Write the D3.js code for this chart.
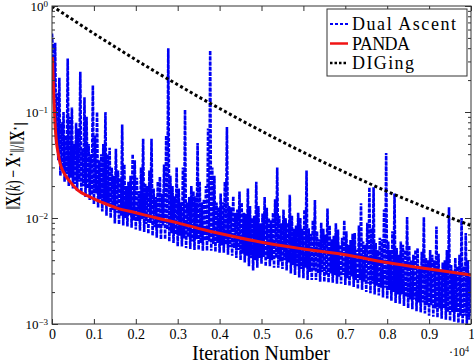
<!DOCTYPE html>
<html><head><meta charset="utf-8">
<script src="https://cdn.jsdelivr.net/npm/d3@7"></script>
<style>body{margin:0;background:#fff} svg{display:block} svg text{font-family:"Liberation Serif","Times New Roman","DejaVu Serif",serif;}</style>
</head><body><svg id="c" width="474" height="364"></svg>
<script>
// ---- data ----
const xTicks = [0,1000,2000,3000,4000,5000,6000,7000,8000,9000,10000];
const xTickLabels = ["0","0.1","0.2","0.3","0.4","0.5","0.6","0.7","0.8","0.9","1"];
const yTicks = [1e-3,1e-2,1e-1,1];
const yTickExps = ["\u22123","\u22122","\u22121","0"];
const seriesNames = ["Dual Ascent","PANDA","DIGing"];

// Dual Ascent: troughs at iterations 0,50,...,10000 and peaks at 25,75,...,9975
const daStep = 50;
const daLow = [
0.55,0.12,0.050,0.035,0.025,0.030,0.022,0.026,0.020,0.024,
0.019,0.021,0.018,0.022,0.0174,0.020,0.0158,0.019,0.0148,0.0165,
0.0135,0.017,0.0126,0.0150,0.0115,0.014,0.0105,0.0135,0.0100,0.0118,
0.0089,0.0112,0.0087,0.0105,0.0085,0.0100,0.0083,0.0106,0.0081,0.0095,
0.0078,0.0094,0.0076,0.0098,0.0074,0.0088,0.0071,0.0090,0.0068,0.0082,
0.0065,0.0080,0.0063,0.0085,0.0063,0.0078,0.0060,0.0072,0.0058,0.0070,
0.0054,0.0068,0.0054,0.0064,0.0052,0.0066,0.0051,0.0060,0.0050,0.0063,
0.0050,0.0058,0.0049,0.0061,0.0049,0.0060,0.0049,0.0057,0.0048,0.0058,
0.0047,0.0055,0.0047,0.0056,0.0045,0.0053,0.0044,0.0052,0.0042,0.0050,
0.0040,0.0046,0.0038,0.0044,0.0035,0.0042,0.0032,0.0040,0.0034,0.0042,
0.0037,0.0043,0.0035,0.0041,0.0035,0.0040,0.0034,0.0042,0.0034,0.0039,
0.0033,0.0040,0.0032,0.0038,0.0030,0.0036,0.0029,0.0035,0.00275,0.0033,
0.0027,0.0034,0.0026,0.0031,0.0026,0.0032,0.0026,0.0030,0.0025,0.0031,
0.0025,0.0029,0.00245,0.0030,0.00245,0.0029,0.0024,0.0028,0.0024,0.0029,
0.00234,0.0027,0.0023,0.0028,0.00224,0.0026,0.00214,0.0026,0.0021,0.0025,
0.0020,0.0024,0.00195,0.0024,0.0019,0.0023,0.00186,0.0022,0.00178,0.0022,
0.00174,0.0021,0.00166,0.0020,0.00158,0.0019,0.00155,0.0019,0.00148,0.0018,
0.00141,0.0017,0.00138,0.0017,0.00132,0.0016,0.00129,0.0016,0.00126,0.0015,
0.0012,0.0015,0.00117,0.0014,0.00115,0.0014,0.00112,0.0014,0.0011,0.0013,
0.00107,0.0013,0.00105,0.0013,0.00102,0.0012,0.0010,0.0012,0.0010,0.0011,
0.0012
];
const daHigh = [
0.35,0.45,0.15,0.21,0.08,0.10,0.06,0.32,0.09,0.11,
0.05,0.079,0.07,0.24,0.045,0.138,0.09,0.050,0.04,0.178,
0.06,0.10,0.035,0.040,0.05,0.10,0.04,0.046,0.030,0.025,
0.045,0.028,0.024,0.076,0.032,0.020,0.022,0.025,0.040,0.035,
0.024,0.018,0.030,0.056,0.021,0.020,0.028,0.056,0.019,0.0158,
0.022,0.0245,0.017,0.032,0.06,0.40,0.025,0.020,0.016,0.030,
0.019,0.0141,0.030,0.105,0.014,0.0158,0.020,0.0178,0.016,0.051,
0.022,0.0141,0.015,0.020,0.07,0.38,0.030,0.025,0.014,0.0126,
0.017,0.0141,0.022,0.072,0.013,0.0126,0.016,0.0112,0.012,0.0178,
0.014,0.0112,0.011,0.019,0.013,0.0100,0.0105,0.022,0.013,0.0089,
0.011,0.0158,0.0125,0.0100,0.0095,0.0112,0.015,0.030,0.0105,0.0089,
0.012,0.0100,0.0090,0.0166,0.0105,0.0079,0.0085,0.0112,0.0100,0.0079,
0.012,0.028,0.0080,0.0071,0.0095,0.0148,0.0075,0.0063,0.0090,0.0079,
0.0070,0.0123,0.0085,0.0063,0.0068,0.0089,0.0078,0.0056,0.0065,0.0095,
0.0075,0.0056,0.0062,0.0071,0.0072,0.0050,0.0085,0.0138,0.0060,0.0056,
0.0090,0.0195,0.0080,0.0195,0.0058,0.0050,0.0065,0.0063,0.0120,0.041,
0.0060,0.0050,0.0075,0.017,0.0052,0.0045,0.0060,0.0056,0.0050,0.0102,
0.0055,0.0040,0.0045,0.0050,0.0052,0.0035,0.0048,0.0102,0.0042,0.0040,
0.0050,0.0045,0.0040,0.0083,0.0046,0.0032,0.0038,0.0040,0.0050,0.0126,
0.0036,0.0032,0.0042,0.0035,0.0045,0.0100,0.0035,0.0072,0.0040,0.0028
];

const pandaIter = [10,40,70,100,150,200,300,430,600,900,1200,1550,2000,2500,3000,3650,4250,5000,6000,7000,8000,9000,10000];
const pandaVal  = [0.33,0.15,0.08,0.055,0.040,0.032,0.026,0.022,0.0185,0.0158,0.0140,0.0124,0.0112,0.0100,0.0090,0.0077,0.0068,0.0059,0.0051,0.0045,0.0038,0.0033,0.0029];

const digingStep = 500;
const diging = [1.0,0.740,0.550,0.413,0.311,0.236,0.181,0.139,0.108,0.0841,0.0661,0.0522,0.0416,0.0333,0.0269,0.0218,0.0178,0.0147,0.0122,0.0101,0.0085];

// ---- chart ----
const W = 474, H = 364;
const m = {left:52, right:3, top:6, bottom:40};
const svg = d3.select("#c");
const x = d3.scaleLinear().domain([0,10000]).range([m.left, W-m.right]);
const y = d3.scaleLog().domain([1e-3,1]).range([H-m.bottom, m.top]);

svg.append("defs").append("clipPath").attr("id","clip")
  .append("rect").attr("x",m.left).attr("y",m.top)
  .attr("width",W-m.left-m.right).attr("height",H-m.top-m.bottom);

const plot = svg.append("g").attr("clip-path","url(#clip)");

// interleave troughs and peaks in iteration order
const daData = [];
daLow.forEach((v,j)=>{
  daData.push([j*daStep, v]);
  if (j < daHigh.length) daData.push([j*daStep + daStep/2, daHigh[j]]);
});
plot.append("path").datum(daData)
  .attr("fill","none").attr("stroke","#0000f5").attr("stroke-width",2.6)
  .attr("stroke-dasharray","4,1.2")
  .attr("d", d3.line().x(d=>x(d[0])).y(d=>y(d[1])));

const pData = pandaIter.map((k,i)=>[k,pandaVal[i]]);
plot.append("path").datum(pData)
  .attr("fill","none").attr("stroke","#f01414").attr("stroke-width",3)
  .attr("d", d3.line().curve(d3.curveMonotoneX).x(d=>x(d[0])).y(d=>y(d[1])));

const dData = diging.map((v,i)=>[i*digingStep, v]);
plot.append("path").datum(dData)
  .attr("fill","none").attr("stroke","#000").attr("stroke-width",3)
  .attr("stroke-dasharray","3,2.6")
  .attr("d", d3.line().curve(d3.curveMonotoneX).x(d=>x(d[0])).y(d=>y(d[1])));

// axes
const axStyle = g => { g.select(".domain").remove(); g.attr("font-family",null); g.selectAll("line").attr("stroke","#333"); };
svg.append("g").attr("transform",`translate(0,${H-m.bottom})`)
  .call(d3.axisBottom(x).tickValues(xTicks).tickSizeInner(-5).tickSizeOuter(0).tickPadding(5)
    .tickFormat((d,i)=>xTickLabels[i]))
  .call(axStyle)
  .selectAll("text").attr("font-size",14).attr("fill","#000");
svg.append("g").attr("transform",`translate(0,${m.top})`)
  .call(d3.axisTop(x).tickValues(xTicks).tickSizeInner(-5).tickSizeOuter(0).tickFormat(""))
  .call(axStyle);

const minor = y.ticks().filter(t => !yTicks.some(M => Math.abs(M - t) < M*1e-6));
[["L",m.left, d3.axisLeft],["R",W-m.right, d3.axisRight]].forEach(([s,px,ax])=>{
  svg.append("g").attr("transform",`translate(${px},0)`)
    .call(ax(y).tickValues(minor).tickSizeInner(-3).tickSizeOuter(0).tickFormat(""))
    .call(axStyle);
  const g = svg.append("g").attr("transform",`translate(${px},0)`)
    .call(ax(y).tickValues(yTicks).tickSizeInner(-6).tickSizeOuter(0).tickPadding(4)
      .tickFormat(s==="L" ? (d=>"") : ""))
    .call(axStyle);
  if (s==="L") {
    g.selectAll(".tick text").each(function(d){
      const i = yTicks.indexOf(d);
      const t = d3.select(this).attr("font-size",13).attr("fill","#000");
      t.append("tspan").text("10");
      t.append("tspan").attr("dy","-0.45em").attr("font-size",9).text(yTickExps[i]);
    });
  }
});

// frame
svg.append("rect").attr("x",m.left).attr("y",m.top)
  .attr("width",W-m.left-m.right).attr("height",H-m.top-m.bottom)
  .attr("fill","none").attr("stroke","#333").attr("stroke-width",1);

// x label
svg.append("text").attr("x",261).attr("y",360)
  .attr("text-anchor","middle").attr("font-size",20).attr("textLength",138).text("Iteration Number");
// ·10^4
const e4 = svg.append("text").attr("x",449).attr("y",356).attr("font-size",12);
e4.append("tspan").text("\u00b710");
e4.append("tspan").attr("dy","-0.45em").attr("font-size",8).text("4");

// y label (compressed along its length to match the reference span)
const ylOuter = svg.append("g").attr("transform","translate(20,166) rotate(-90)");
const ylInner = ylOuter.append("g");
const yl = ylInner.append("text").attr("text-anchor","middle").attr("font-size",21);
yl.append("tspan").text("\u2016");
yl.append("tspan").attr("font-weight","bold").text("X");
yl.append("tspan").text("(");
yl.append("tspan").attr("font-style","italic").text("k");
yl.append("tspan").text(")\u2009\u2212\u2009");
yl.append("tspan").attr("font-weight","bold").text("X");
yl.append("tspan").attr("dy","-0.45em").attr("font-size",12).text("\u22c6");
yl.append("tspan").attr("dy","0.45em").text("\u2016/\u2016");
yl.append("tspan").attr("font-weight","bold").text("X");
yl.append("tspan").attr("dy","-0.45em").attr("font-size",12).text("\u22c6");
yl.append("tspan").attr("dy","0.45em").text("\u2016");
let bw = 0;
try { bw = yl.node().getBBox().width; } catch(e) { bw = 0; }
const sx = (bw > 170) ? 165 / bw : 0.66;
ylInner.attr("transform", `scale(${sx},1)`);

// legend
const lg = svg.append("g");
lg.append("rect").attr("x",327).attr("y",9).attr("width",140).attr("height",67)
  .attr("fill","#fff").attr("stroke","#333").attr("stroke-width",1);
const legStyles = [
  {c:"#0000f5", w:2, dash:"3,2", len:104},
  {c:"#f01414", w:2.5, dash:null, len:58},
  {c:"#000", w:2.5, dash:"2.5,2", len:62}
];
seriesNames.forEach((n,i)=>{
  const yy = 24 + i*19.5;
  lg.append("line").attr("x1",330).attr("x2",348).attr("y1",yy).attr("y2",yy)
    .attr("stroke",legStyles[i].c).attr("stroke-width",legStyles[i].w)
    .attr("stroke-dasharray",legStyles[i].dash);
  lg.append("text").attr("x",352).attr("y",yy+6).attr("font-size",18)
    .attr("textLength",legStyles[i].len).text(n);
});
</script></body></html>
